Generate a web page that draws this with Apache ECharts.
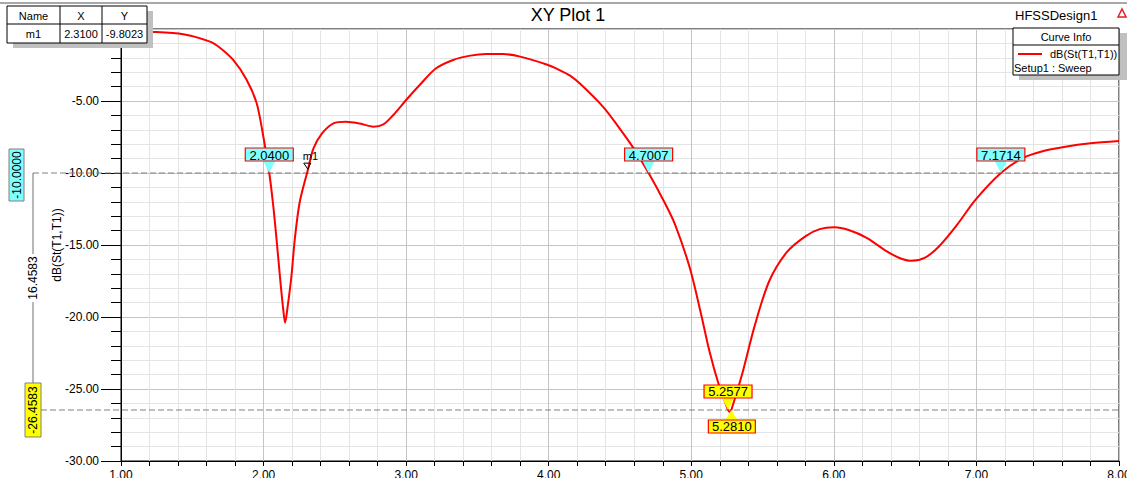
<!DOCTYPE html>
<html><head><meta charset="utf-8">
<script src="https://cdn.jsdelivr.net/npm/echarts@6/dist/echarts.min.js"></script>
<style>html,body{margin:0;padding:0;background:#fff;overflow:hidden}#c{width:1127px;height:478px}</style>
</head><body><div id="c"></div>
<script>
// ---- data ----
const freqGHz = [1.00,1.20,1.437,1.624,1.70,1.787,1.88,1.95,1.99,2.04,2.067,2.09,2.114,2.137,2.151,2.17,2.196,2.22,2.254,2.31,2.35,2.41,2.49,2.58,2.675,2.77,2.84,2.91,3.00,3.095,3.21,3.33,3.45,3.56,3.68,3.80,3.98,4.076,4.15,4.23,4.38,4.48,4.596,4.7007,4.81,4.887,4.99,5.064,5.128,5.19,5.2577,5.27,5.281,5.356,5.445,5.547,5.67,5.80,5.90,6.003,6.104,6.23,6.357,6.46,6.547,6.636,6.737,6.864,6.99,7.1714,7.32,7.47,7.624,7.80,8.00];
const dbSt11 = [-0.13,-0.19,-0.36,-0.88,-1.35,-2.15,-3.5,-5.1,-7.0,-10.0,-12.2,-14.5,-17.1,-19.4,-20.4,-19.2,-17.1,-14.5,-12.0,-9.8023,-8.29,-7.25,-6.55,-6.44,-6.57,-6.78,-6.62,-5.97,-4.93,-3.89,-2.73,-2.15,-1.85,-1.74,-1.74,-1.92,-2.45,-2.85,-3.24,-3.89,-5.39,-6.67,-8.29,-10.0,-12.0,-13.6,-16.6,-19.6,-22.4,-24.6,-26.4583,-26.6,-26.4583,-24.0,-20.6,-17.5,-15.5,-14.4,-13.9,-13.77,-13.96,-14.5,-15.35,-15.9,-16.1,-15.9,-15.1,-13.6,-11.9,-10.0,-8.98,-8.47,-8.17,-7.94,-7.78];
const cyanMarkerX = [2.04, 4.7007, 7.1714];
const cyanMarkerY = -10;
const yellowMarkerX = [5.2577, 5.2810];
const yellowMarkerY = -26.4583;
const m1Point = [2.31, -9.8023];
const deltaText = '16.4583';
const tableHeader = ['Name', 'X', 'Y'];
const tableRow = ['m1', '2.3100', '-9.8023'];
const titleText = 'XY Plot 1';
const designText = 'HFSSDesign1';
const seriesName = 'dB(St(T1,T1))';
const setupText = 'Setup1 : Sweep';

const FONT = 'Arial, "Liberation Sans", sans-serif';
const chart = echarts.init(document.getElementById('c'), null, {renderer: 'svg'});

const option = {
  animation: false,
  backgroundColor: '#ffffff',
  grid: {left: 121, right: 8, top: 29, bottom: 17, show: true, borderColor: '#000', borderWidth: 1,
         containLabel: false, outerBoundsMode: 'none'},
  xAxis: {
    type: 'value', min: 1, max: 8, interval: 1,
    axisLine: {show: true, onZero: false, lineStyle: {color: '#000', width: 1}},
    axisTick: {show: true, length: 5, lineStyle: {color: '#000'}},
    minorTick: {show: true, splitNumber: 5, length: 5, lineStyle: {color: '#000'}},
    splitLine: {show: true, lineStyle: {color: '#c4c4c4', width: 1}},
    minorSplitLine: {show: true, lineStyle: {color: '#e4e4e4', width: 1}},
    axisLabel: {color: '#000', fontSize: 12, fontFamily: FONT, margin: 8, formatter: v => v.toFixed(2)}
  },
  yAxis: {
    type: 'value', min: -30, max: 0, interval: 5,
    name: seriesName, nameLocation: 'middle', nameGap: 58, nameMoveOverlap: false,
    nameTextStyle: {color: '#000', fontSize: 12, fontFamily: FONT},
    axisLine: {show: true, onZero: false, lineStyle: {color: '#000', width: 1}},
    axisTick: {show: true, length: 20, lineStyle: {color: '#000'}},
    minorTick: {show: true, splitNumber: 5, length: 10, lineStyle: {color: '#000'}},
    splitLine: {show: true, lineStyle: {color: '#c4c4c4', width: 1}},
    minorSplitLine: {show: true, lineStyle: {color: '#e4e4e4', width: 1}},
    axisLabel: {color: '#000', fontSize: 12, fontFamily: FONT, margin: 22, showMaxLabel: false,
                formatter: v => v.toFixed(2)}
  },
  series: [{
    type: 'line', name: seriesName,
    data: freqGHz.map((f, i) => [f, dbSt11[i]]),
    showSymbol: false, smooth: 0.3,
    lineStyle: {color: '#ff0000', width: 2}, z: 3
  }]
};
chart.setOption(option);

const P = (x, y) => chart.convertToPixel({gridIndex: 0}, [x, y]);
const g = [];
const txt = (x, y, text, size, align, extra) => Object.assign({type: 'text', x, y, z: 100,
  style: {text, fontSize: size, fontFamily: FONT, fill: '#000', align: align || 'center', verticalAlign: 'middle'}}, extra || {});
const rect = (x, y, w, h, fill, stroke, z, lw) => ({type: 'rect', z: z || 100, shape: {x, y, width: w, height: h},
  style: {fill, stroke: stroke || null, lineWidth: lw || 1}});
const line = (x1, y1, x2, y2, stroke, lw, dash, z) => ({type: 'line', z: z || 100, shape: {x1, y1, x2, y2},
  style: {stroke, lineWidth: lw || 1, lineDash: dash || null}});

const plotR = P(8, 0)[0];
// window top line
g.push(line(0, 3, 1127, 3, '#a8a8a8', 2));
// titles
g.push(txt(568, 15, titleText, 18));
g.push(txt(1015, 15, designText, 13, 'left'));
g.push({type: 'polygon', z: 100, shape: {points: [[1118, 17], [1122, 9], [1126, 17]]}, style: {fill: 'none', stroke: '#e02020', lineWidth: 1.5}});

// reference lines
const y10 = P(1, cyanMarkerY)[1];
const yLo = P(1, yellowMarkerY)[1];
g.push(line(33, y10, plotR, y10, '#808080', 1, [6, 3], 1));
g.push(line(41, yLo, plotR, yLo, '#808080', 1, [6, 3], 1));
// left delta annotation
const yBoxTop = yLo - 27;
const yMid = (y10 + yBoxTop) / 2;
g.push(line(33, y10, 33, yMid - 24, '#707070', 1));
g.push(line(33, yMid + 24, 33, yBoxTop, '#707070', 1));
g.push(txt(33, yMid, deltaText, 12, 'center', {rotation: Math.PI / 2}));
g.push(rect(9, y10 - 24, 15, 52, '#80ffff', '#808080'));
g.push(txt(16.5, y10 + 2, cyanMarkerY.toFixed(4), 12, 'center', {rotation: Math.PI / 2}));
g.push(rect(25, yBoxTop, 16, 54, '#ffff00', '#808080'));
g.push(txt(33, yLo, yellowMarkerY.toFixed(4), 12, 'center', {rotation: Math.PI / 2}));

// markers
function marker(xv, yv, fill, down) {
  const [px, py] = P(xv, yv);
  if (down) {
    g.push({type: 'polygon', z: 100, shape: {points: [[px - 6, py - 12], [px + 6, py - 12], [px, py]]}, style: {fill, stroke: null}});
    g.push(rect(px - 24, py - 25, 48, 13, fill, '#ff0000', 101, 1.2));
    g.push(txt(px, py - 18, xv.toFixed(4), 13, 'center', {z: 102}));
  } else {
    g.push({type: 'polygon', z: 100, shape: {points: [[px - 6, py + 10], [px + 6, py + 10], [px, py]]}, style: {fill, stroke: null}});
    g.push(rect(px - 23, py + 10, 47, 13, fill, '#ff0000', 101, 1.2));
    g.push(txt(px + 0.5, py + 17, xv.toFixed(4), 13, 'center', {z: 102}));
  }
}
cyanMarkerX.forEach(x => marker(x, cyanMarkerY, '#80ffff', true));
marker(yellowMarkerX[0], yellowMarkerY, '#ffff00', true);
marker(yellowMarkerX[1], yellowMarkerY, '#ffff00', false);
// m1 marker
const [mx, my] = P(m1Point[0], m1Point[1]);
g.push({type: 'polygon', z: 100, shape: {points: [[mx - 4, my - 7], [mx + 3, my - 7], [mx, my - 1]]}, style: {fill: 'none', stroke: '#000', lineWidth: 1}});
g.push(txt(mx - 5, my - 14, 'm1', 11, 'left'));

// marker table
g.push(rect(13, 11, 140, 37, '#c0c0c0', null, 100));
g.push(rect(7, 6, 140, 37, '#ffffff', '#000', 101));
g.push(line(7, 24, 147, 24, '#000', 1, null, 102));
g.push(line(60, 6, 60, 43, '#000', 1, null, 102));
g.push(line(102, 6, 102, 43, '#000', 1, null, 102));
const colC = [33.5, 81, 124.5];
tableHeader.forEach((t, i) => g.push(txt(colC[i], 15.5, t, 11, 'center', {z: 103})));
tableRow.forEach((t, i) => g.push(txt(colC[i], 33.5, t, 11, 'center', {z: 103})));

// curve info legend
g.push(rect(1019, 33, 108, 47, '#c0c0c0', null, 100));
g.push(rect(1013, 28, 106, 47, '#ffffff', '#000', 101));
g.push(line(1013, 45, 1119, 45, '#000', 1, null, 102));
g.push(txt(1066, 37, 'Curve Info', 11, 'center', {z: 103}));
g.push(line(1018, 54, 1042, 54, '#ff0000', 2, null, 103));
g.push(txt(1050, 54, seriesName, 11, 'left', {z: 103}));
g.push(txt(1014, 68, setupText, 11, 'left', {z: 103}));

chart.setOption({graphic: {elements: g}});
</script>
</body></html>
